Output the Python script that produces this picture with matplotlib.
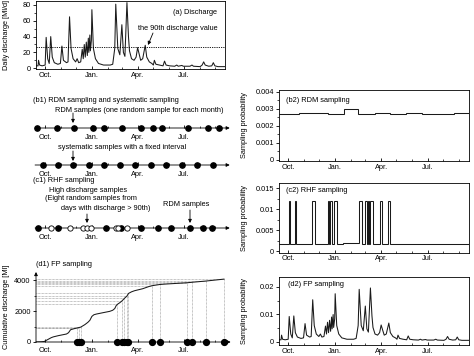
import matplotlib.pyplot as plt
import matplotlib.ticker as mticker
from matplotlib.patches import FancyArrowPatch
import numpy as np

plt.rcParams['font.family'] = ['Liberation Sans', 'DejaVu Sans']
plt.rcParams['font.size'] = 5.3
plt.rcParams['axes.linewidth'] = 0.6

# days counted from 1 Oct
month_start = [0, 31, 61, 92, 123, 151, 182, 212, 243, 273, 304, 335]
quarter_ticks = [0, 92, 182, 273]
quarter_labels = ['Oct.', 'Jan.', 'Apr.', 'Jul.']
day_range = (-18, 354)

# (a) daily discharge [Ml/d]
q_days = [-18, -14, -13, -11, -6, 0, 2, 5, 8, 11, 14, 18, 25, 30, 33, 36, 42, 45, 48, 51,
          55, 60, 63, 66, 70, 73, 75, 77, 79, 81, 83, 85, 86, 88, 89, 91, 92, 95, 99, 105,
          115, 128, 133, 135, 137, 139, 143, 147, 151, 154, 157, 161, 164, 166, 170, 175, 179, 182, 185, 188,
          192, 197, 200, 205, 210, 213, 215, 218, 225, 232, 235, 238, 245, 255, 259, 262, 269, 272, 285, 289,
          292, 305, 309, 312, 315, 322, 328, 331, 334, 340, 354]
q_vals = [3, 3, 10, 4, 3, 4, 39, 12, 6, 40, 14, 7, 5, 6, 28, 10, 7, 8, 65, 25,
          12, 8, 12, 7, 8, 24, 12, 30, 14, 33, 16, 38, 20, 42, 22, 35, 74, 25, 12, 6,
          4, 4, 5, 15, 25, 81, 25, 17, 55, 20, 15, 83, 40, 22, 12, 10, 14, 26, 18, 10,
          12, 29, 14, 8, 6, 4, 10, 5, 4, 3, 9, 4, 3, 2.5, 4, 2.5, 3.5, 2.5, 2.5, 4,
          2.5, 2, 4, 8, 4, 2.5, 3, 7, 3, 2, 2]
q90 = 27

# (b1) sample days
rdm_days = [-16, 24, 57, 95, 116, 152, 189, 213, 230, 282, 321, 343]
sys_days = [-4, 25, 55, 86, 116, 147, 177, 208, 238, 269, 299, 330]

# (b2) RDM sampling probability (step function)
rdm_edges = [-18, 21.7, 77.4, 110, 136, 169, 199, 231.5, 261, 324, 354]
rdm_prob = [0.00269, 0.00278, 0.00269, 0.00298, 0.00269, 0.00278, 0.00269, 0.00278, 0.00269, 0.00278]

# (c1) RHF samples
rhf_high_days = [11, 49, 75, 82, 90, 140, 144, 161]
rhf_rdm_days = [-15, 26, 120, 149, 188, 223, 248, 285, 311, 329]

# (c2) RHF sampling probability (step function)
rhf_edges = [-18, 2, 4.5, 13, 15, 47, 53, 77, 80, 82, 86, 89, 96, 108, 138, 144, 151, 154,
             155.5, 159, 160.5, 166, 180, 183, 196, 199, 354]
rhf_prob = [0.0016, 0.012, 0.0016, 0.012, 0.0016, 0.012, 0.0016, 0.012, 0.0016, 0.012, 0.0016,
            0.012, 0.0016, 0.0019, 0.012, 0.0016, 0.012, 0.0016, 0.012, 0.0016, 0.012, 0.0016,
            0.012, 0.0016, 0.012, 0.0017]

# (d1) cumulative discharge [Ml]
cum_days = [-18, -8, -2, 3, 12, 16, 26, 42, 46, 50, 56, 62, 66, 70, 78, 84, 88, 92, 96, 101,
            115, 127, 133, 137, 140, 142, 147, 151, 156, 161, 164, 170, 176, 192, 205, 210, 226, 237,
            280, 290, 316, 352]
cum_vals = [0, 10, 30, 120, 280, 330, 410, 516, 600, 790, 850, 900, 930, 960, 1118, 1268, 1400, 1655, 1760, 1806,
            1900, 1978, 2050, 2160, 2360, 2427, 2540, 2645, 2817, 2967, 3135, 3240, 3311, 3440, 3590, 3633, 3715, 3741,
            3827, 3860, 3935, 4060]
fp_days = [62, 66, 70, 142, 151, 156, 161, 164, 210, 226, 280, 290, 316, 352]
fp_cum = [900, 930, 960, 2427, 2645, 2817, 2967, 3135, 3633, 3715, 3827, 3860, 3935, 4060]

# (d2) FP sampling probability
fp_prob = [0.0007, 0.0007, 0.0024, 0.0009, 0.0007, 0.0009, 0.0092, 0.0028, 0.0014, 0.0094, 0.0033, 0.0017,
           0.0012, 0.0014, 0.0066, 0.0024, 0.0017, 0.0019, 0.0153, 0.0059, 0.0028, 0.0019, 0.0028, 0.0017,
           0.0019, 0.0057, 0.0028, 0.0071, 0.0033, 0.0078, 0.0038, 0.009, 0.0047, 0.0099, 0.0052, 0.0083,
           0.0175, 0.0059, 0.0028, 0.0014, 0.0009, 0.0009, 0.0012, 0.0035, 0.0059, 0.0191, 0.0059, 0.004,
           0.013, 0.0047, 0.0035, 0.0196, 0.0094, 0.0052, 0.0028, 0.0024, 0.0033, 0.0061, 0.0042, 0.0024,
           0.0028, 0.0068, 0.0033, 0.0019, 0.0014, 0.0009, 0.0024, 0.0012, 0.0009, 0.0007, 0.0021, 0.0009,
           0.0007, 0.0006, 0.0009, 0.0006, 0.0008, 0.0006, 0.0006, 0.0009, 0.0006, 0.0005, 0.0009, 0.0019,
           0.0009, 0.0006, 0.0007, 0.0017, 0.0007, 0.0005, 0.0005]

W, H = 474, 356
LINE = '#1a1a1a'

fig = plt.figure(figsize=(W / 100, H / 100), dpi=100)


def box(left, top, right, bottom):
    return [left / W, 1 - bottom / H, (right - left) / W, (bottom - top) / H]


def txt(x, y, s, **kw):
    fig.text(x / W, 1 - y / H, s, ha=kw.pop('ha', 'left'), va='center', **kw)


def arrow(x0, y0, x1, y1):
    fig.add_artist(FancyArrowPatch((x0 / W, 1 - y0 / H), (x1 / W, 1 - y1 / H),
                                   transform=fig.transFigure, arrowstyle='-|>',
                                   mutation_scale=5, lw=0.6, color='k',
                                   shrinkA=0, shrinkB=0))


def month_axis(ax, pad=2.0):
    ax.set_xlim(day_range)
    ax.set_xticks(quarter_ticks)
    ax.set_xticklabels(quarter_labels)
    ax.set_xticks(month_start, minor=True)
    ax.tick_params(axis='x', which='major', direction='in', length=2.5, width=0.6, pad=pad)
    ax.tick_params(axis='x', which='minor', direction='in', length=1.6, width=0.5)
    ax.tick_params(axis='y', which='major', direction='out', length=2.2, width=0.6, pad=1.5)
    ax.tick_params(axis='y', which='minor', direction='out', length=1.3, width=0.5)


def timeline(yc, filled, hollow=None):
    ax = fig.add_axes(box(36, yc - 10, 225, yc + 10))
    ax.set_ylim(-1, 1)
    month_axis(ax, pad=4.0)
    for s in ['left', 'right', 'top', 'bottom']:
        ax.spines[s].set_visible(False)
    ax.spines['bottom'].set_position(('data', 0))
    ax.set_yticks([])
    ax.patch.set_alpha(0)
    ax.annotate('', xy=(1.025, 0.5), xytext=(-0.005, 0.5), xycoords='axes fraction',
                arrowprops=dict(arrowstyle='-|>', lw=0.6, color='k', mutation_scale=5,
                                shrinkA=0, shrinkB=0))
    ax.plot(filled, np.zeros(len(filled)), 'o', ms=3.8, color='k', clip_on=False, zorder=5)
    if hollow is not None:
        ax.plot(hollow, np.zeros(len(hollow)), 'o', ms=3.8, mfc='white', mec='k', mew=0.6,
                clip_on=False, zorder=6)
    return ax


# (a) discharge
ax_a = fig.add_axes(box(36, 1, 225, 69))
ax_a.plot(q_days, q_vals, color=LINE, lw=0.75)
ax_a.axhline(q90, ls=(0, (1.5, 1.2)), color='k', lw=0.6)
month_axis(ax_a)
ax_a.set_ylim(-1, 85)
ax_a.set_yticks([0, 20, 40, 60, 80])
ax_a.yaxis.set_minor_locator(mticker.MultipleLocator(10))
ax_a.set_ylabel('Daily discharge [Ml/d]')
ax_a.yaxis.set_label_coords(-0.14, 0.5)
txt(173, 13, '(a) Discharge')
txt(138, 28, 'the 90th discharge value')
arrow(153, 33, 148, 45)

# (b1) RDM / systematic diagrams
txt(33, 100, '(b1) RDM sampling and systematic sampling')
txt(55, 110, 'RDM samples (one random sample for each month)')
arrow(73, 113, 73, 123)
timeline(128, rdm_days)
txt(58, 147, 'systematic samples with a fixed interval')
arrow(73, 151, 73, 161)
timeline(165, sys_days)

# (c1) RHF diagram
txt(33, 181, '(c1) RHF sampling')
txt(49, 190, 'High discharge samples')
txt(45, 199, '(Eight random samples from')
txt(61, 208, 'days with discharge > 90th)')
txt(163, 205, 'RDM samples')
arrow(87, 214, 87, 223)
arrow(190, 210, 190, 223)
timeline(228, rhf_rdm_days, rhf_high_days)

# (d1) FP cumulative
ax_d1 = fig.add_axes(box(36, 272, 225, 342))
ax_d1.set_ylim(0, 4520)
month_axis(ax_d1, pad=3.5)
for s in ['left', 'right', 'top', 'bottom']:
    ax_d1.spines[s].set_visible(False)
for d, c in zip(fp_days, fp_cum):
    ax_d1.plot([day_range[0], d, d], [c, c, 0], ls=(0, (1, 1)), color='0.55', lw=0.5)
ax_d1.plot(cum_days, cum_vals, color=LINE, lw=0.75)
ax_d1.plot(fp_days, np.zeros(len(fp_days)), 'o', ms=4.2, color='k', clip_on=False, zorder=5)
ax_d1.annotate('', xy=(1.03, 0), xytext=(0, 0), xycoords='axes fraction',
               arrowprops=dict(arrowstyle='-|>', lw=0.6, color='k', mutation_scale=5,
                               shrinkA=0, shrinkB=0))
ax_d1.annotate('', xy=(0, 1.0), xytext=(0, 0), xycoords='axes fraction',
               arrowprops=dict(arrowstyle='-|>', lw=0.6, color='k', mutation_scale=5,
                               shrinkA=0, shrinkB=0))
ax_d1.set_yticks([0, 2000, 4000])
ax_d1.yaxis.set_minor_locator(mticker.MultipleLocator(1000))
ax_d1.set_ylabel('Cumulative discharge [Ml]')
ax_d1.yaxis.set_label_coords(-0.14, 0.5)
txt(36, 265, '(d1) FP sampling')

# (b2) RDM probability
ax_b2 = fig.add_axes(box(279, 90, 469, 161))
ax_b2.stairs(rdm_prob, rdm_edges, baseline=None, color=LINE, lw=0.75)
month_axis(ax_b2)
ax_b2.set_ylim(-0.00006, 0.0041)
ax_b2.set_yticks([0, 0.001, 0.002, 0.003, 0.004])
ax_b2.set_yticklabels(['0', '0.001', '0.002', '0.003', '0.004'])
ax_b2.yaxis.set_minor_locator(mticker.MultipleLocator(0.0005))
ax_b2.set_ylabel('Sampling probability')
ax_b2.yaxis.set_label_coords(-0.165, 0.5)
txt(286, 100, '(b2) RDM sampling')

# (c2) RHF probability
ax_c2 = fig.add_axes(box(279, 183, 469, 252.5))
ax_c2.stairs(rhf_prob, rhf_edges, baseline=None, color=LINE, lw=0.75)
month_axis(ax_c2)
ax_c2.set_ylim(-0.0003, 0.0162)
ax_c2.set_yticks([0, 0.005, 0.01, 0.015])
ax_c2.set_yticklabels(['0', '0.005', '0.01', '0.015'])
ax_c2.yaxis.set_minor_locator(mticker.MultipleLocator(0.0025))
ax_c2.set_ylabel('Sampling probability')
ax_c2.yaxis.set_label_coords(-0.165, 0.5)
txt(286, 190, '(c2) RHF sampling')

# (d2) FP probability
ax_d2 = fig.add_axes(box(279, 277, 469, 345))
ax_d2.plot(q_days, fp_prob, color=LINE, lw=0.75)
month_axis(ax_d2)
ax_d2.set_ylim(-0.0012, 0.0236)
ax_d2.set_yticks([0, 0.01, 0.02])
ax_d2.set_yticklabels(['0', '0.01', '0.02'])
ax_d2.yaxis.set_minor_locator(mticker.MultipleLocator(0.005))
ax_d2.set_ylabel('Sampling probability')
ax_d2.yaxis.set_label_coords(-0.165, 0.5)
txt(288, 285, '(d2) FP sampling')

# plt.show()
plt.savefig('out.png', dpi=100)
